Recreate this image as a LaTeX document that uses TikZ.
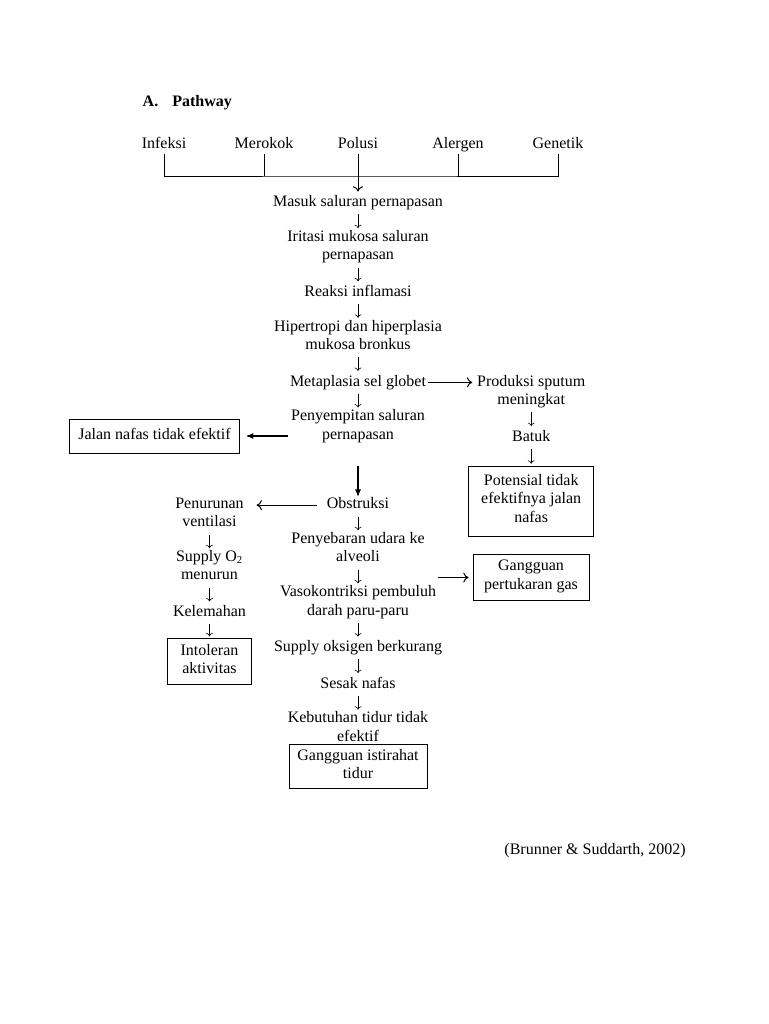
\documentclass[tikz,border=0pt]{standalone}
\usepackage{fontspec}
\setmainfont{Liberation Serif}
\usepackage{tikz}
\usetikzlibrary{arrows,arrows.meta,positioning}
\tikzset{
    %Define standard arrow tip
    >=stealth',
    %Define style for plain text steps
    langkah/.style={
           inner sep=0pt,
           align=center,
           font=\fontsize{12}{13.8}\selectfont,
           execute at begin node=\strut,
           execute at end node=\strut},
    %Define style for boxes
    kotak/.style={
           rectangle,
           draw=black, line width=0.7pt,
           inner sep=2pt,
           align=center,
           font=\fontsize{12}{13.8}\selectfont,
           execute at begin node=\strut,
           execute at end node=\strut},
    % Define arrow styles
    turun/.style={
           -{To[length=2.5pt,width=5pt]},
           line width=0.45pt,
           shorten <=1.5pt,
           shorten >=1.5pt},
    pil/.style={
           -{To[length=4pt,width=7.5pt]},
           line width=0.75pt},
    pilpenuh/.style={
           ->,
           line width=0.8pt}
}
\begin{document}
\begin{tikzpicture}[x=0.75pt,y=-0.75pt,node distance=13.2pt]
\useasboundingbox (0,0) rectangle (768,1024);
\node[anchor=west,font=\fontsize{12}{13.8}\selectfont\bfseries] (judul) at (138,103) {\strut A.\hspace{10.5pt}Pathway};
% penyebab
\node[langkah] (infeksi) at (164,145) {Infeksi};
\node[langkah] (merokok) at (264,145) {Merokok};
\node[langkah] (polusi) at (358,145) {Polusi};
\node[langkah] (alergen) at (458,145) {Alergen};
\node[langkah] (genetik) at (558,145) {Genetik};
\coordinate (sambung) at (358,176);
% jalur tengah
\node[langkah] (masuk) at (358,203) {Masuk saluran pernapasan};
\node[langkah, below=of masuk] (iritasi) {Iritasi mukosa saluran\\pernapasan};
\node[langkah, below=of iritasi] (reaksi) {Reaksi inflamasi};
\node[langkah, below=of reaksi] (hiper) {Hipertropi dan hiperplasia\\mukosa bronkus};
\node[langkah, below=of hiper] (meta) {Metaplasia sel globet};
\node[langkah, below=of meta] (sempit) {Penyempitan saluran\\pernapasan};
\coordinate[below=16pt of sempit] (pangkal);
\node[langkah, below=38pt of sempit] (obs) {Obstruksi};
\node[langkah, below=of obs] (sebar) {Penyebaran udara ke\\alveoli};
\node[langkah, below=of sebar] (vaso) {Vasokontriksi pembuluh\\darah paru-paru};
\node[langkah, below=of vaso] (supply) {Supply oksigen berkurang};
\node[langkah, below=of supply] (sesak) {Sesak nafas};
\node[langkah, below=of sesak] (tidur) {Kebutuhan tidur tidak\\efektif};
\node[kotak, below=-2pt of tidur, minimum width=103.5pt, minimum height=33pt] (istirahat) {Gangguan istirahat\\tidur};
% cabang kanan
\node[langkah, right=38pt of meta.north east, anchor=north west, yshift=-1.5pt] (sputum) {Produksi sputum\\meningkat};
\node[langkah, below=of sputum] (batuk) {Batuk};
\node[kotak, below=14pt of batuk, minimum width=94pt, minimum height=52.5pt] (potensial) {Potensial tidak\\efektifnya jalan\\nafas};
\node[kotak, minimum width=87pt, minimum height=35pt] (tukar) at (531,577.5) {Gangguan\\pertukaran gas};
% cabang kiri
\node[kotak, minimum width=128pt, minimum height=25.5pt] (jalan) at (154.5,436) {Jalan nafas tidak efektif};
\node[langkah, left=62pt of obs.north west, anchor=north east, yshift=-1.5pt] (ventilasi) {Penurunan\\ventilasi};
\node[langkah, below=of ventilasi] (oksigen) {Supply O\textsubscript{2}\\menurun};
\node[langkah, below=of oksigen] (lemah) {Kelemahan};
\node[kotak, below=12pt of lemah, minimum width=63pt, minimum height=34.5pt] (intoleran) {Intoleran\\aktivitas};
\node[langkah, anchor=east] (sumber) at (686,851) {(Brunner \& Suddarth, 2002)};
% garis penyebab
\draw[line width=0.7pt] (infeksi.south) |- (sambung) -| (genetik.south);
\draw[line width=0.7pt] (merokok.south) -- (merokok.south |- sambung);
\draw[line width=0.7pt] (alergen.south) -- (alergen.south |- sambung);
\draw[pil, shorten >=1.5pt] (polusi) -- (masuk);
% panah kecil
\path[turun]
	(masuk) edge (iritasi)
	(iritasi) edge (reaksi)
	(reaksi) edge (hiper)
	(hiper) edge (meta)
	(meta) edge (sempit)
	(obs) edge (sebar)
	(sebar) edge (vaso)
	(vaso) edge (supply)
	(supply) edge (sesak)
	(sesak) edge (tidur)
	(sputum) edge (batuk)
	(batuk) edge (potensial)
	(ventilasi) edge (oksigen)
	(oksigen) edge (lemah)
	(lemah) edge (intoleran);
% panah samping
\draw[pilpenuh] (pangkal) -- (obs.north);
\draw[pil, shorten <=1.5pt, shorten >=3.5pt] (meta.east) -- (meta.east -| sputum.west);
\draw[pilpenuh, shorten <=2pt, shorten >=5pt] (jalan.east -| sempit.west) -- (jalan.east);
\draw[pil, shorten <=7.5pt, shorten >=9.5pt] (obs.west) -- (obs.west -| ventilasi.east);
\draw[pil, shorten <=1pt, shorten >=3pt] (tukar.west -| vaso.east) -- (tukar.west);
\end{tikzpicture}
\end{document}
